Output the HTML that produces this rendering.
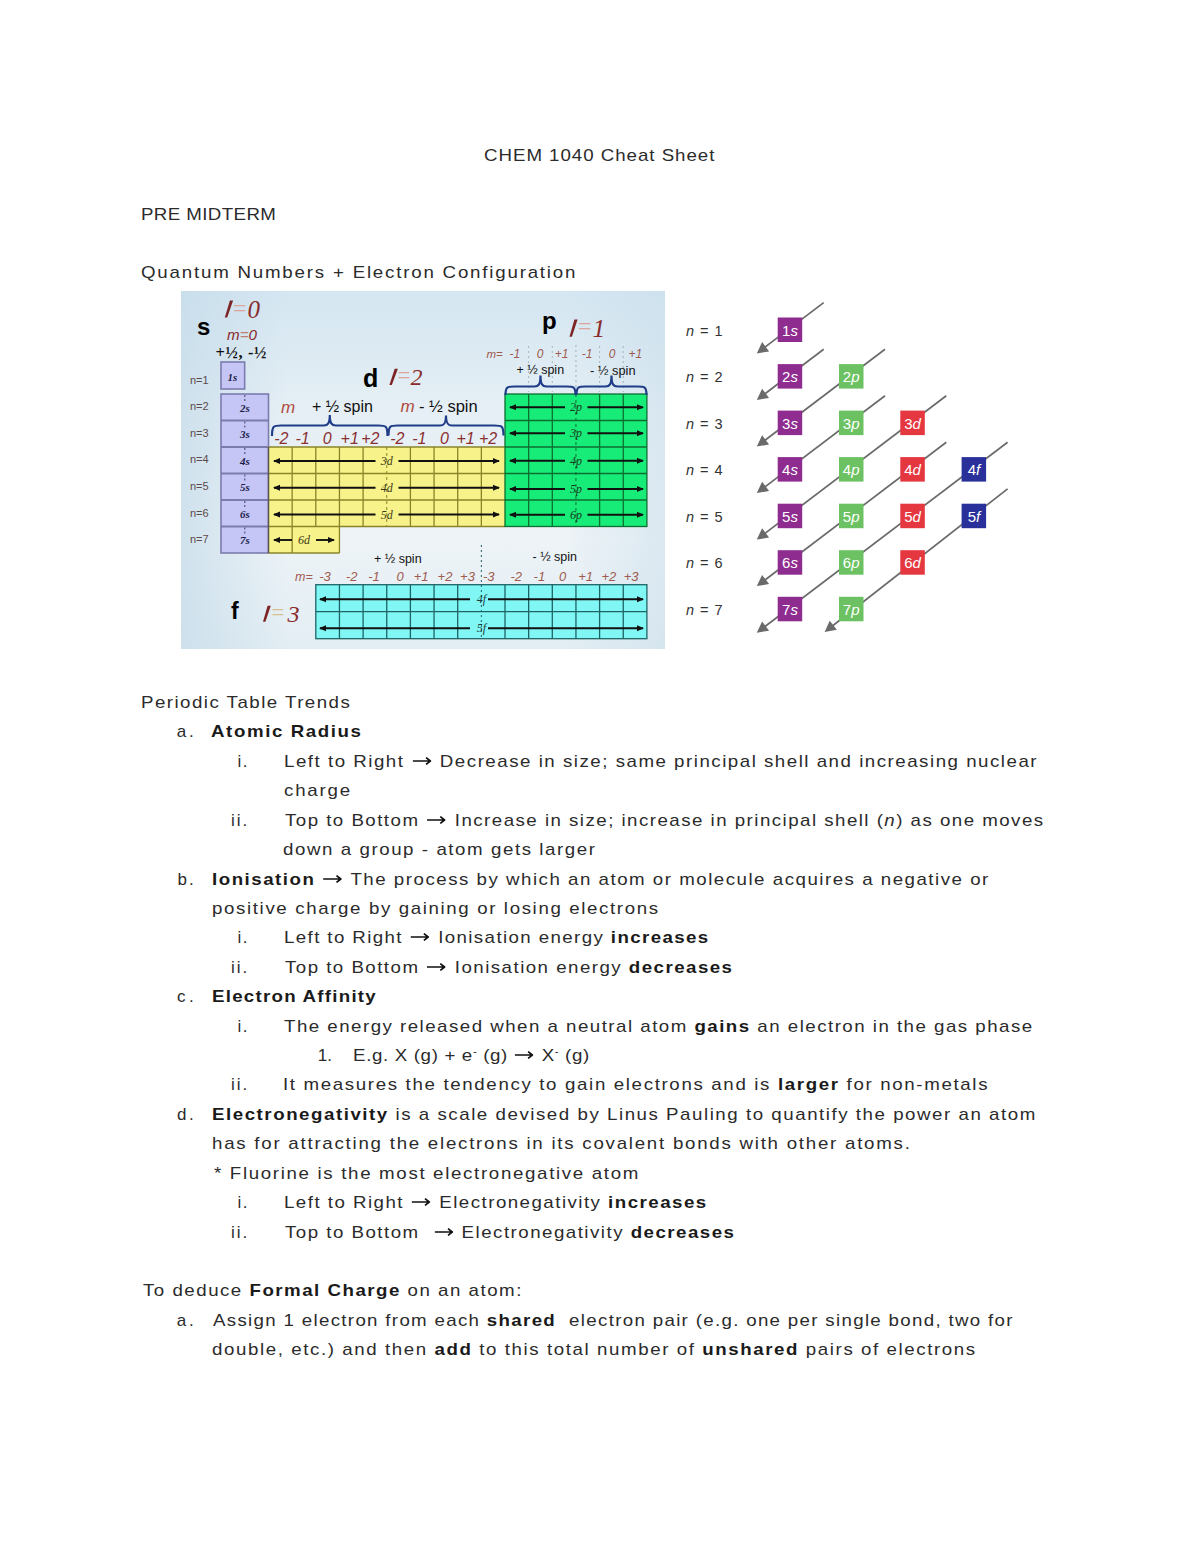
<!DOCTYPE html>
<html><head><meta charset="utf-8"><title>CHEM 1040 Cheat Sheet</title><style>html,body{margin:0;padding:0;background:#fff}
body{width:1200px;height:1553px;position:relative;overflow:hidden}
.l{position:absolute;transform-origin:0 0;white-space:pre;font-family:"Liberation Sans",sans-serif;font-size:17px;line-height:30px;color:#2b2b2b}
.l b{font-weight:bold;color:#1a1a1a}
sup{font-size:60%;vertical-align:0;position:relative;top:-0.55em}
svg.dg{position:absolute;left:0;top:0}
.ar{display:inline-block;vertical-align:2px;margin:0 2px 0 1px}
</style></head><body>
<svg class="dg" width="1200" height="700" viewBox="0 0 1200 700">
<defs>
<linearGradient id="bg" x1="0" y1="0" x2="0" y2="1">
<stop offset="0" stop-color="#d4e6f1"/><stop offset="0.35" stop-color="#e6eff5"/><stop offset="0.7" stop-color="#edf3f7"/><stop offset="1" stop-color="#e2edf3"/></linearGradient>
<linearGradient id="bgh" x1="0" y1="0" x2="1" y2="0">
<stop offset="0" stop-color="#c6dcea" stop-opacity="0.75"/><stop offset="0.22" stop-color="#c6dcea" stop-opacity="0"/><stop offset="0.8" stop-color="#c6dcea" stop-opacity="0"/><stop offset="1" stop-color="#c6dcea" stop-opacity="0.45"/></linearGradient>
<marker id="al" viewBox="0 0 10 10" refX="1" refY="5" markerWidth="5" markerHeight="5" orient="auto-start-reverse"><path d="M10 0L0 5L10 10z" fill="#111"/></marker>
</defs>
<rect x="181" y="291" width="484" height="358" fill="url(#bg)"/>
<rect x="181" y="291" width="484" height="358" fill="url(#bgh)"/>
<rect x="221" y="362" width="23.65" height="27" fill="#c5c6f6" stroke="#7b7cad" stroke-width="1.6"/>
<rect x="221" y="394" width="47.50" height="159" fill="#c5c6f6" stroke="#7b7cad" stroke-width="1.6"/>
<line x1="221" y1="420.5" x2="268.5" y2="420.5" stroke="#7b7cad" stroke-width="1.8"/>
<line x1="221" y1="447.0" x2="268.5" y2="447.0" stroke="#7b7cad" stroke-width="1.8"/>
<line x1="221" y1="473.5" x2="268.5" y2="473.5" stroke="#7b7cad" stroke-width="1.8"/>
<line x1="221" y1="500.0" x2="268.5" y2="500.0" stroke="#7b7cad" stroke-width="1.8"/>
<line x1="221" y1="526.5" x2="268.5" y2="526.5" stroke="#7b7cad" stroke-width="1.8"/>
<line x1="244.8" y1="395.0" x2="244.8" y2="402.0" stroke="#555580" stroke-width="1.2" stroke-dasharray="2 2"/>
<line x1="244.8" y1="421.5" x2="244.8" y2="428.5" stroke="#555580" stroke-width="1.2" stroke-dasharray="2 2"/>
<line x1="244.8" y1="448.0" x2="244.8" y2="455.0" stroke="#555580" stroke-width="1.2" stroke-dasharray="2 2"/>
<line x1="244.8" y1="474.5" x2="244.8" y2="481.5" stroke="#555580" stroke-width="1.2" stroke-dasharray="2 2"/>
<line x1="244.8" y1="501.0" x2="244.8" y2="508.0" stroke="#555580" stroke-width="1.2" stroke-dasharray="2 2"/>
<line x1="244.8" y1="527.5" x2="244.8" y2="534.5" stroke="#555580" stroke-width="1.2" stroke-dasharray="2 2"/>
<text x="232.5" y="381" font-family="Liberation Serif" font-size="11" font-style="italic" font-weight="bold" fill="#1d1d4a" text-anchor="middle">1s</text>
<text x="244.8" y="411.5" font-family="Liberation Serif" font-size="11" font-style="italic" font-weight="bold" fill="#1d1d4a" text-anchor="middle">2s</text>
<text x="244.8" y="438.0" font-family="Liberation Serif" font-size="11" font-style="italic" font-weight="bold" fill="#1d1d4a" text-anchor="middle">3s</text>
<text x="244.8" y="464.5" font-family="Liberation Serif" font-size="11" font-style="italic" font-weight="bold" fill="#1d1d4a" text-anchor="middle">4s</text>
<text x="244.8" y="491.0" font-family="Liberation Serif" font-size="11" font-style="italic" font-weight="bold" fill="#1d1d4a" text-anchor="middle">5s</text>
<text x="244.8" y="517.5" font-family="Liberation Serif" font-size="11" font-style="italic" font-weight="bold" fill="#1d1d4a" text-anchor="middle">6s</text>
<text x="244.8" y="544.0" font-family="Liberation Serif" font-size="11" font-style="italic" font-weight="bold" fill="#1d1d4a" text-anchor="middle">7s</text>
<text x="190" y="384.0" font-family="Liberation Sans" font-size="11" fill="#5b4b4b">n=1</text>
<text x="190" y="410.0" font-family="Liberation Sans" font-size="11" fill="#5b4b4b">n=2</text>
<text x="190" y="436.7" font-family="Liberation Sans" font-size="11" fill="#5b4b4b">n=3</text>
<text x="190" y="463.0" font-family="Liberation Sans" font-size="11" fill="#5b4b4b">n=4</text>
<text x="190" y="490.0" font-family="Liberation Sans" font-size="11" fill="#5b4b4b">n=5</text>
<text x="190" y="516.5" font-family="Liberation Sans" font-size="11" fill="#5b4b4b">n=6</text>
<text x="190" y="543.0" font-family="Liberation Sans" font-size="11" fill="#5b4b4b">n=7</text>
<rect x="268.50" y="447" width="236.50" height="79.5" fill="#f8f28a"/>
<rect x="268.50" y="526.5" width="70.95" height="26.5" fill="#f8f28a"/>
<line x1="268.50" y1="447.0" x2="505.00" y2="447.0" stroke="#8a8428" stroke-width="1.3"/>
<line x1="268.50" y1="473.5" x2="505.00" y2="473.5" stroke="#8a8428" stroke-width="1.3"/>
<line x1="268.50" y1="500.0" x2="505.00" y2="500.0" stroke="#8a8428" stroke-width="1.3"/>
<line x1="268.50" y1="526.5" x2="505.00" y2="526.5" stroke="#8a8428" stroke-width="1.3"/>
<line x1="268.50" y1="553" x2="339.45" y2="553" stroke="#8a8428" stroke-width="1.3"/>
<line x1="292.15" y1="447" x2="292.15" y2="553.0" stroke="#8a8428" stroke-width="1.3"/>
<line x1="315.80" y1="447" x2="315.80" y2="526.5" stroke="#8a8428" stroke-width="1.3"/>
<line x1="339.45" y1="447" x2="339.45" y2="526.5" stroke="#8a8428" stroke-width="1.3"/>
<line x1="363.10" y1="447" x2="363.10" y2="526.5" stroke="#8a8428" stroke-width="1.3"/>
<line x1="386.75" y1="447" x2="386.75" y2="526.5" stroke="#8a8428" stroke-width="1" stroke-dasharray="3 3"/>
<line x1="410.40" y1="447" x2="410.40" y2="526.5" stroke="#8a8428" stroke-width="1.3"/>
<line x1="434.05" y1="447" x2="434.05" y2="526.5" stroke="#8a8428" stroke-width="1.3"/>
<line x1="457.70" y1="447" x2="457.70" y2="526.5" stroke="#8a8428" stroke-width="1.3"/>
<line x1="481.35" y1="447" x2="481.35" y2="526.5" stroke="#8a8428" stroke-width="1.3"/>
<line x1="339.45" y1="526.5" x2="339.45" y2="553" stroke="#8a8428" stroke-width="1.3"/>
<line x1="268.50" y1="447" x2="268.50" y2="553" stroke="#555" stroke-width="1.5"/>
<line x1="274.0" y1="461.0" x2="375.5" y2="461.0" stroke="#111" stroke-width="1.9"/><path d="M273.0 461.0L280.0 458.0L280.0 464.0z" fill="#111"/>
<line x1="398.5" y1="461.0" x2="499.0" y2="461.0" stroke="#111" stroke-width="1.9"/><path d="M500.0 461.0L493.0 458.0L493.0 464.0z" fill="#111"/>
<text x="386.8" y="465.0" font-family="Liberation Serif" font-size="12" font-style="italic" fill="#3d3a18" text-anchor="middle">3d</text>
<line x1="274.0" y1="487.7" x2="375.5" y2="487.7" stroke="#111" stroke-width="1.9"/><path d="M273.0 487.7L280.0 484.7L280.0 490.7z" fill="#111"/>
<line x1="398.5" y1="487.7" x2="499.0" y2="487.7" stroke="#111" stroke-width="1.9"/><path d="M500.0 487.7L493.0 484.7L493.0 490.7z" fill="#111"/>
<text x="386.8" y="491.7" font-family="Liberation Serif" font-size="12" font-style="italic" fill="#3d3a18" text-anchor="middle">4d</text>
<line x1="274.0" y1="514.5" x2="375.5" y2="514.5" stroke="#111" stroke-width="1.9"/><path d="M273.0 514.5L280.0 511.5L280.0 517.5z" fill="#111"/>
<line x1="398.5" y1="514.5" x2="499.0" y2="514.5" stroke="#111" stroke-width="1.9"/><path d="M500.0 514.5L493.0 511.5L493.0 517.5z" fill="#111"/>
<text x="386.8" y="518.5" font-family="Liberation Serif" font-size="12" font-style="italic" fill="#3d3a18" text-anchor="middle">5d</text>
<line x1="274.0" y1="540.0" x2="292.0" y2="540.0" stroke="#111" stroke-width="1.9"/><path d="M273.0 540.0L280.0 537.0L280.0 543.0z" fill="#111"/>
<line x1="316.0" y1="540.0" x2="334.0" y2="540.0" stroke="#111" stroke-width="1.9"/><path d="M335.0 540.0L328.0 537.0L328.0 543.0z" fill="#111"/>
<text x="304" y="544" font-family="Liberation Serif" font-size="12" font-style="italic" fill="#3d3a18" text-anchor="middle">6d</text>
<rect x="505.00" y="394" width="141.90" height="132.5" fill="#18ec78" stroke="#0d6e30" stroke-width="1.3"/>
<line x1="505.00" y1="420.5" x2="646.90" y2="420.5" stroke="#0d6e30" stroke-width="1.3"/>
<line x1="505.00" y1="447.0" x2="646.90" y2="447.0" stroke="#0d6e30" stroke-width="1.3"/>
<line x1="505.00" y1="473.5" x2="646.90" y2="473.5" stroke="#0d6e30" stroke-width="1.3"/>
<line x1="505.00" y1="500.0" x2="646.90" y2="500.0" stroke="#0d6e30" stroke-width="1.3"/>
<line x1="528.65" y1="394" x2="528.65" y2="526.5" stroke="#0d6e30" stroke-width="1.3"/>
<line x1="528.65" y1="346" x2="528.65" y2="392" stroke="#9aa" stroke-width="0.8" stroke-dasharray="2 3"/>
<line x1="552.30" y1="394" x2="552.30" y2="526.5" stroke="#0d6e30" stroke-width="1.3"/>
<line x1="552.30" y1="346" x2="552.30" y2="392" stroke="#9aa" stroke-width="0.8" stroke-dasharray="2 3"/>
<line x1="575.95" y1="345" x2="575.95" y2="392" stroke="#9aa" stroke-width="0.9" stroke-dasharray="2 3"/>
<line x1="575.95" y1="394" x2="575.95" y2="526.5" stroke="#0d6e30" stroke-width="1" stroke-dasharray="3 3"/>
<line x1="599.60" y1="394" x2="599.60" y2="526.5" stroke="#0d6e30" stroke-width="1.3"/>
<line x1="599.60" y1="346" x2="599.60" y2="392" stroke="#9aa" stroke-width="0.8" stroke-dasharray="2 3"/>
<line x1="623.25" y1="394" x2="623.25" y2="526.5" stroke="#0d6e30" stroke-width="1.3"/>
<line x1="623.25" y1="346" x2="623.25" y2="392" stroke="#9aa" stroke-width="0.8" stroke-dasharray="2 3"/>
<line x1="510.0" y1="407.3" x2="565.0" y2="407.3" stroke="#111" stroke-width="1.9"/><path d="M509.0 407.3L516.0 404.3L516.0 410.3z" fill="#111"/>
<line x1="587.5" y1="407.3" x2="643.0" y2="407.3" stroke="#111" stroke-width="1.9"/><path d="M644.0 407.3L637.0 404.3L637.0 410.3z" fill="#111"/>
<text x="576.0" y="411.3" font-family="Liberation Serif" font-size="12" font-style="italic" fill="#1b3d22" text-anchor="middle">2p</text>
<line x1="510.0" y1="433.2" x2="565.0" y2="433.2" stroke="#111" stroke-width="1.9"/><path d="M509.0 433.2L516.0 430.2L516.0 436.2z" fill="#111"/>
<line x1="587.5" y1="433.2" x2="643.0" y2="433.2" stroke="#111" stroke-width="1.9"/><path d="M644.0 433.2L637.0 430.2L637.0 436.2z" fill="#111"/>
<text x="576.0" y="437.2" font-family="Liberation Serif" font-size="12" font-style="italic" fill="#1b3d22" text-anchor="middle">3p</text>
<line x1="510.0" y1="460.7" x2="565.0" y2="460.7" stroke="#111" stroke-width="1.9"/><path d="M509.0 460.7L516.0 457.7L516.0 463.7z" fill="#111"/>
<line x1="587.5" y1="460.7" x2="643.0" y2="460.7" stroke="#111" stroke-width="1.9"/><path d="M644.0 460.7L637.0 457.7L637.0 463.7z" fill="#111"/>
<text x="576.0" y="464.7" font-family="Liberation Serif" font-size="12" font-style="italic" fill="#1b3d22" text-anchor="middle">4p</text>
<line x1="510.0" y1="489.0" x2="565.0" y2="489.0" stroke="#111" stroke-width="1.9"/><path d="M509.0 489.0L516.0 486.0L516.0 492.0z" fill="#111"/>
<line x1="587.5" y1="489.0" x2="643.0" y2="489.0" stroke="#111" stroke-width="1.9"/><path d="M644.0 489.0L637.0 486.0L637.0 492.0z" fill="#111"/>
<text x="576.0" y="493.0" font-family="Liberation Serif" font-size="12" font-style="italic" fill="#1b3d22" text-anchor="middle">5p</text>
<line x1="510.0" y1="514.7" x2="565.0" y2="514.7" stroke="#111" stroke-width="1.9"/><path d="M509.0 514.7L516.0 511.7L516.0 517.7z" fill="#111"/>
<line x1="587.5" y1="514.7" x2="643.0" y2="514.7" stroke="#111" stroke-width="1.9"/><path d="M644.0 514.7L637.0 511.7L637.0 517.7z" fill="#111"/>
<text x="576.0" y="518.7" font-family="Liberation Serif" font-size="12" font-style="italic" fill="#1b3d22" text-anchor="middle">6p</text>
<rect x="315.80" y="584.7" width="331.10" height="54" fill="#80f7f5" stroke="#1d6466" stroke-width="1.3"/>
<line x1="315.80" y1="611.7" x2="646.90" y2="611.7" stroke="#1d6466" stroke-width="1.3"/>
<line x1="339.45" y1="584.7" x2="339.45" y2="638.7" stroke="#1d6466" stroke-width="1.3"/>
<line x1="363.10" y1="584.7" x2="363.10" y2="638.7" stroke="#1d6466" stroke-width="1.3"/>
<line x1="386.75" y1="584.7" x2="386.75" y2="638.7" stroke="#1d6466" stroke-width="1.3"/>
<line x1="410.40" y1="584.7" x2="410.40" y2="638.7" stroke="#1d6466" stroke-width="1.3"/>
<line x1="434.05" y1="584.7" x2="434.05" y2="638.7" stroke="#1d6466" stroke-width="1.3"/>
<line x1="457.70" y1="584.7" x2="457.70" y2="638.7" stroke="#1d6466" stroke-width="1.3"/>
<line x1="481.35" y1="545" x2="481.35" y2="638.7" stroke="#1d6466" stroke-width="1" stroke-dasharray="2 3"/>
<line x1="505.00" y1="584.7" x2="505.00" y2="638.7" stroke="#1d6466" stroke-width="1.3"/>
<line x1="528.65" y1="584.7" x2="528.65" y2="638.7" stroke="#1d6466" stroke-width="1.3"/>
<line x1="552.30" y1="584.7" x2="552.30" y2="638.7" stroke="#1d6466" stroke-width="1.3"/>
<line x1="575.95" y1="584.7" x2="575.95" y2="638.7" stroke="#1d6466" stroke-width="1.3"/>
<line x1="599.60" y1="584.7" x2="599.60" y2="638.7" stroke="#1d6466" stroke-width="1.3"/>
<line x1="623.25" y1="584.7" x2="623.25" y2="638.7" stroke="#1d6466" stroke-width="1.3"/>
<line x1="320.0" y1="599.2" x2="470.0" y2="599.2" stroke="#111" stroke-width="1.9"/><path d="M319.0 599.2L326.0 596.2L326.0 602.2z" fill="#111"/>
<line x1="488.0" y1="599.2" x2="643.0" y2="599.2" stroke="#111" stroke-width="1.9"/><path d="M644.0 599.2L637.0 596.2L637.0 602.2z" fill="#111"/>
<text x="481.4" y="603.2" font-family="Liberation Serif" font-size="12" font-style="italic" fill="#1d3d40" text-anchor="middle">4f</text>
<line x1="320.0" y1="628.2" x2="470.0" y2="628.2" stroke="#111" stroke-width="1.9"/><path d="M319.0 628.2L326.0 625.2L326.0 631.2z" fill="#111"/>
<line x1="488.0" y1="628.2" x2="643.0" y2="628.2" stroke="#111" stroke-width="1.9"/><path d="M644.0 628.2L637.0 625.2L637.0 631.2z" fill="#111"/>
<text x="481.4" y="632.2" font-family="Liberation Serif" font-size="12" font-style="italic" fill="#1d3d40" text-anchor="middle">5f</text>
<path d="M272.0 436.0 C272.0 425.5 274.0 425.5 281.0 425.5 L323.8 425.5 C327.8 425.5 329.8 423.5 329.8 415.0 C329.8 423.5 331.8 425.5 335.8 425.5 L378.5 425.5 C385.5 425.5 387.5 425.5 387.5 436.0" fill="none" stroke="#1f3d88" stroke-width="2.2"/>
<path d="M388.5 435.5 C388.5 425.5 390.5 425.5 397.5 425.5 L440.0 425.5 C444.0 425.5 446.0 423.5 446.0 415.5 C446.0 423.5 448.0 425.5 452.0 425.5 L494.5 425.5 C501.5 425.5 503.5 425.5 503.5 435.5" fill="none" stroke="#1f3d88" stroke-width="2.2"/>
<path d="M505.5 395.0 C505.5 386.5 507.5 386.5 514.5 386.5 L534.5 386.5 C538.5 386.5 540.5 384.5 540.5 375.5 C540.5 384.5 542.5 386.5 546.5 386.5 L566.5 386.5 C573.5 386.5 575.5 386.5 575.5 395.0" fill="none" stroke="#1f3d88" stroke-width="2.2"/>
<path d="M576.5 395.0 C576.5 386.5 578.5 386.5 585.5 386.5 L605.5 386.5 C609.5 386.5 611.5 384.5 611.5 375.5 C611.5 384.5 613.5 386.5 617.5 386.5 L637.5 386.5 C644.5 386.5 646.5 386.5 646.5 395.0" fill="none" stroke="#1f3d88" stroke-width="2.2"/>
<text x="197" y="334.5" font-family="Liberation Sans" font-size="24" font-weight="bold" fill="#000">s</text>
<path d="M229.9 300.5L233.1 300.5L227.2 317.5L224.8 317.5z" fill="#7d2424"/><text x="233.0" y="315.5" font-family="Liberation Serif" font-size="23.8" fill="#dba49c">=</text><text x="247.5" y="317.5" font-family="Liberation Serif" font-size="25.0" font-style="italic" fill="#8a2b2b">0</text>
<text x="227" y="339.5" font-family="Liberation Sans" font-size="15.2" font-style="italic" fill="#8a2b2b">m<tspan fill="#c08070">=</tspan>0</text>
<text x="215.5" y="358" font-family="Liberation Serif" font-size="16.5" font-weight="bold" fill="#111" letter-spacing="0.6">+½, -½</text>
<text x="363" y="386.5" font-family="Liberation Sans" font-size="25" font-weight="bold" fill="#000">d</text>
<path d="M394.7 368.7L397.9 368.7L391.8 385.0L389.4 385.0z" fill="#7d2424"/><text x="397.5" y="383.0" font-family="Liberation Serif" font-size="22.8" fill="#dba49c">=</text><text x="410.5" y="385.0" font-family="Liberation Serif" font-size="24.0" font-style="italic" fill="#8a2b2b">2</text>
<text x="542" y="328.5" font-family="Liberation Sans" font-size="24" font-weight="bold" fill="#000">p</text>
<path d="M574.4 319.5L577.6 319.5L571.9 336.7L569.5 336.7z" fill="#7d2424"/><text x="578.0" y="334.7" font-family="Liberation Serif" font-size="24.2" fill="#dba49c">=</text><text x="592.5" y="336.7" font-family="Liberation Serif" font-size="25.5" font-style="italic" fill="#8a2b2b">1</text>
<path d="M267.6 605.8L270.8 605.8L265.4 621.7L263.0 621.7z" fill="#7d2424"/><text x="271.5" y="619.7" font-family="Liberation Serif" font-size="22.8" fill="#d8c090">=</text><text x="287.5" y="621.7" font-family="Liberation Serif" font-size="24.0" font-style="italic" fill="#8a2b2b">3</text>
<text x="231" y="619.2" font-family="Liberation Sans" font-size="23" font-weight="bold" fill="#000">f</text>
<text x="281" y="412.8" font-family="Liberation Sans" font-size="17" font-style="italic" fill="#b04a40">m</text>
<text x="312" y="411.6" font-family="Liberation Sans" font-size="16" fill="#111">+ ½ spin</text>
<text x="400.5" y="412" font-family="Liberation Sans" font-size="17" font-style="italic" fill="#b04a40">m</text>
<text x="419" y="412" font-family="Liberation Sans" font-size="16.5" fill="#111">- ½ spin</text>
<text x="281.4" y="443.7" font-family="Liberation Sans" font-size="16" font-style="italic" fill="#8a3030" text-anchor="middle">-2</text>
<text x="302.5" y="443.7" font-family="Liberation Sans" font-size="16" font-style="italic" fill="#8a3030" text-anchor="middle">-1</text>
<text x="327.3" y="443.7" font-family="Liberation Sans" font-size="16" font-style="italic" fill="#8a3030" text-anchor="middle">0</text>
<text x="349.7" y="443.7" font-family="Liberation Sans" font-size="16" font-style="italic" fill="#8a3030" text-anchor="middle">+1</text>
<text x="370.3" y="443.7" font-family="Liberation Sans" font-size="16" font-style="italic" fill="#8a3030" text-anchor="middle">+2</text>
<text x="397.4" y="443.7" font-family="Liberation Sans" font-size="16" font-style="italic" fill="#8a3030" text-anchor="middle">-2</text>
<text x="419.4" y="443.7" font-family="Liberation Sans" font-size="16" font-style="italic" fill="#8a3030" text-anchor="middle">-1</text>
<text x="444.4" y="443.7" font-family="Liberation Sans" font-size="16" font-style="italic" fill="#8a3030" text-anchor="middle">0</text>
<text x="465.6" y="443.7" font-family="Liberation Sans" font-size="16" font-style="italic" fill="#8a3030" text-anchor="middle">+1</text>
<text x="488.1" y="443.7" font-family="Liberation Sans" font-size="16" font-style="italic" fill="#8a3030" text-anchor="middle">+2</text>
<text x="486.5" y="357.7" font-family="Liberation Sans" font-size="11.5" font-style="italic" fill="#a05a50">m=</text>
<text x="514.8" y="357.7" font-family="Liberation Sans" font-size="12" font-style="italic" fill="#a05a50" text-anchor="middle">-1</text>
<text x="540.2" y="357.7" font-family="Liberation Sans" font-size="12" font-style="italic" fill="#a05a50" text-anchor="middle">0</text>
<text x="561.6" y="357.7" font-family="Liberation Sans" font-size="12" font-style="italic" fill="#a05a50" text-anchor="middle">+1</text>
<text x="587.0" y="357.7" font-family="Liberation Sans" font-size="12" font-style="italic" fill="#a05a50" text-anchor="middle">-1</text>
<text x="612.2" y="357.7" font-family="Liberation Sans" font-size="12" font-style="italic" fill="#a05a50" text-anchor="middle">0</text>
<text x="635.3" y="357.7" font-family="Liberation Sans" font-size="12" font-style="italic" fill="#a05a50" text-anchor="middle">+1</text>
<text x="516.5" y="373.5" font-family="Liberation Sans" font-size="12.5" fill="#111">+ ½ spin</text>
<text x="590" y="375" font-family="Liberation Sans" font-size="12.8" fill="#111">- ½ spin</text>
<text x="295" y="580.5" font-family="Liberation Sans" font-size="12.5" font-style="italic" fill="#a05a50">m=</text>
<text x="325.0" y="580.5" font-family="Liberation Sans" font-size="13" font-style="italic" fill="#a05a50" text-anchor="middle">-3</text>
<text x="351.7" y="580.5" font-family="Liberation Sans" font-size="13" font-style="italic" fill="#a05a50" text-anchor="middle">-2</text>
<text x="374.0" y="580.5" font-family="Liberation Sans" font-size="13" font-style="italic" fill="#a05a50" text-anchor="middle">-1</text>
<text x="400.0" y="580.5" font-family="Liberation Sans" font-size="13" font-style="italic" fill="#a05a50" text-anchor="middle">0</text>
<text x="421.2" y="580.5" font-family="Liberation Sans" font-size="13" font-style="italic" fill="#a05a50" text-anchor="middle">+1</text>
<text x="445.0" y="580.5" font-family="Liberation Sans" font-size="13" font-style="italic" fill="#a05a50" text-anchor="middle">+2</text>
<text x="467.5" y="580.5" font-family="Liberation Sans" font-size="13" font-style="italic" fill="#a05a50" text-anchor="middle">+3</text>
<text x="488.8" y="580.5" font-family="Liberation Sans" font-size="13" font-style="italic" fill="#a05a50" text-anchor="middle">-3</text>
<text x="516.2" y="580.5" font-family="Liberation Sans" font-size="13" font-style="italic" fill="#a05a50" text-anchor="middle">-2</text>
<text x="539.4" y="580.5" font-family="Liberation Sans" font-size="13" font-style="italic" fill="#a05a50" text-anchor="middle">-1</text>
<text x="562.5" y="580.5" font-family="Liberation Sans" font-size="13" font-style="italic" fill="#a05a50" text-anchor="middle">0</text>
<text x="585.6" y="580.5" font-family="Liberation Sans" font-size="13" font-style="italic" fill="#a05a50" text-anchor="middle">+1</text>
<text x="608.8" y="580.5" font-family="Liberation Sans" font-size="13" font-style="italic" fill="#a05a50" text-anchor="middle">+2</text>
<text x="631.2" y="580.5" font-family="Liberation Sans" font-size="13" font-style="italic" fill="#a05a50" text-anchor="middle">+3</text>
<text x="374" y="562.5" font-family="Liberation Sans" font-size="12.5" fill="#111">+ ½ spin</text>
<text x="532.5" y="560.5" font-family="Liberation Sans" font-size="12.5" fill="#111">- ½ spin</text>
</svg>
<svg class="dg" width="1200" height="700" viewBox="0 0 1200 700">
<line x1="823.7" y1="302.6" x2="764.0" y2="347.9" stroke="#6a6a6a" stroke-width="1.7"/>
<path d="M756.8 353.4L762.1 342.1L769.1 351.4z" fill="#6a6a6a"/>
<line x1="823.7" y1="349.2" x2="764.0" y2="394.5" stroke="#6a6a6a" stroke-width="1.7"/>
<path d="M756.8 399.9L762.1 388.7L769.1 397.9z" fill="#6a6a6a"/>
<line x1="885.0" y1="349.2" x2="764.0" y2="441.0" stroke="#6a6a6a" stroke-width="1.7"/>
<path d="M756.8 446.5L762.1 435.2L769.1 444.5z" fill="#6a6a6a"/>
<line x1="885.0" y1="395.7" x2="764.0" y2="487.6" stroke="#6a6a6a" stroke-width="1.7"/>
<path d="M756.8 493.0L762.1 481.8L769.1 491.0z" fill="#6a6a6a"/>
<line x1="946.3" y1="395.7" x2="764.0" y2="534.1" stroke="#6a6a6a" stroke-width="1.7"/>
<path d="M756.8 539.6L762.1 528.3L769.1 537.6z" fill="#6a6a6a"/>
<line x1="946.3" y1="442.3" x2="764.0" y2="580.7" stroke="#6a6a6a" stroke-width="1.7"/>
<path d="M756.8 586.1L762.1 574.9L769.1 584.1z" fill="#6a6a6a"/>
<line x1="1007.6" y1="442.3" x2="764.0" y2="627.2" stroke="#6a6a6a" stroke-width="1.7"/>
<path d="M756.8 632.7L762.1 621.4L769.1 630.7z" fill="#6a6a6a"/>
<line x1="1007.6" y1="488.8" x2="831.7" y2="626.5" stroke="#6a6a6a" stroke-width="1.7"/>
<path d="M824.6 632.0L829.7 620.7L836.8 629.8z" fill="#6a6a6a"/>
<rect x="777.7" y="317.5" width="24.5" height="24.5" fill="#8e2c90"/>
<text x="790.0" y="335.5" font-family="Liberation Sans" font-size="15" fill="#fff" text-anchor="middle">1<tspan font-style="italic">s</tspan></text>
<rect x="777.7" y="364.1" width="24.5" height="24.5" fill="#8e2c90"/>
<text x="790.0" y="382.1" font-family="Liberation Sans" font-size="15" fill="#fff" text-anchor="middle">2<tspan font-style="italic">s</tspan></text>
<rect x="839.0" y="364.1" width="24.5" height="24.5" fill="#6cc262"/>
<text x="851.2" y="382.1" font-family="Liberation Sans" font-size="15" fill="#fff" text-anchor="middle">2<tspan font-style="italic">p</tspan></text>
<rect x="777.7" y="410.6" width="24.5" height="24.5" fill="#8e2c90"/>
<text x="790.0" y="428.6" font-family="Liberation Sans" font-size="15" fill="#fff" text-anchor="middle">3<tspan font-style="italic">s</tspan></text>
<rect x="839.0" y="410.6" width="24.5" height="24.5" fill="#6cc262"/>
<text x="851.2" y="428.6" font-family="Liberation Sans" font-size="15" fill="#fff" text-anchor="middle">3<tspan font-style="italic">p</tspan></text>
<rect x="900.3" y="410.6" width="24.5" height="24.5" fill="#e5373f"/>
<text x="912.6" y="428.6" font-family="Liberation Sans" font-size="15" fill="#fff" text-anchor="middle">3<tspan font-style="italic">d</tspan></text>
<rect x="777.7" y="457.1" width="24.5" height="24.5" fill="#8e2c90"/>
<text x="790.0" y="475.1" font-family="Liberation Sans" font-size="15" fill="#fff" text-anchor="middle">4<tspan font-style="italic">s</tspan></text>
<rect x="839.0" y="457.1" width="24.5" height="24.5" fill="#6cc262"/>
<text x="851.2" y="475.1" font-family="Liberation Sans" font-size="15" fill="#fff" text-anchor="middle">4<tspan font-style="italic">p</tspan></text>
<rect x="900.3" y="457.1" width="24.5" height="24.5" fill="#e5373f"/>
<text x="912.6" y="475.1" font-family="Liberation Sans" font-size="15" fill="#fff" text-anchor="middle">4<tspan font-style="italic">d</tspan></text>
<rect x="961.6" y="457.1" width="24.5" height="24.5" fill="#29309a"/>
<text x="973.9" y="475.1" font-family="Liberation Sans" font-size="15" fill="#fff" text-anchor="middle">4<tspan font-style="italic">f</tspan></text>
<rect x="777.7" y="503.7" width="24.5" height="24.5" fill="#8e2c90"/>
<text x="790.0" y="521.7" font-family="Liberation Sans" font-size="15" fill="#fff" text-anchor="middle">5<tspan font-style="italic">s</tspan></text>
<rect x="839.0" y="503.7" width="24.5" height="24.5" fill="#6cc262"/>
<text x="851.2" y="521.7" font-family="Liberation Sans" font-size="15" fill="#fff" text-anchor="middle">5<tspan font-style="italic">p</tspan></text>
<rect x="900.3" y="503.7" width="24.5" height="24.5" fill="#e5373f"/>
<text x="912.6" y="521.7" font-family="Liberation Sans" font-size="15" fill="#fff" text-anchor="middle">5<tspan font-style="italic">d</tspan></text>
<rect x="961.6" y="503.7" width="24.5" height="24.5" fill="#29309a"/>
<text x="973.9" y="521.7" font-family="Liberation Sans" font-size="15" fill="#fff" text-anchor="middle">5<tspan font-style="italic">f</tspan></text>
<rect x="777.7" y="550.2" width="24.5" height="24.5" fill="#8e2c90"/>
<text x="790.0" y="568.2" font-family="Liberation Sans" font-size="15" fill="#fff" text-anchor="middle">6<tspan font-style="italic">s</tspan></text>
<rect x="839.0" y="550.2" width="24.5" height="24.5" fill="#6cc262"/>
<text x="851.2" y="568.2" font-family="Liberation Sans" font-size="15" fill="#fff" text-anchor="middle">6<tspan font-style="italic">p</tspan></text>
<rect x="900.3" y="550.2" width="24.5" height="24.5" fill="#e5373f"/>
<text x="912.6" y="568.2" font-family="Liberation Sans" font-size="15" fill="#fff" text-anchor="middle">6<tspan font-style="italic">d</tspan></text>
<rect x="777.7" y="596.8" width="24.5" height="24.5" fill="#8e2c90"/>
<text x="790.0" y="614.8" font-family="Liberation Sans" font-size="15" fill="#fff" text-anchor="middle">7<tspan font-style="italic">s</tspan></text>
<rect x="839.0" y="596.8" width="24.5" height="24.5" fill="#6cc262"/>
<text x="851.2" y="614.8" font-family="Liberation Sans" font-size="15" fill="#fff" text-anchor="middle">7<tspan font-style="italic">p</tspan></text>
<text x="686" y="335.5" font-family="Liberation Sans" font-size="14.5" fill="#333" letter-spacing="1"><tspan font-style="italic">n</tspan> = 1</text>
<text x="686" y="382.1" font-family="Liberation Sans" font-size="14.5" fill="#333" letter-spacing="1"><tspan font-style="italic">n</tspan> = 2</text>
<text x="686" y="428.6" font-family="Liberation Sans" font-size="14.5" fill="#333" letter-spacing="1"><tspan font-style="italic">n</tspan> = 3</text>
<text x="686" y="475.1" font-family="Liberation Sans" font-size="14.5" fill="#333" letter-spacing="1"><tspan font-style="italic">n</tspan> = 4</text>
<text x="686" y="521.7" font-family="Liberation Sans" font-size="14.5" fill="#333" letter-spacing="1"><tspan font-style="italic">n</tspan> = 5</text>
<text x="686" y="568.2" font-family="Liberation Sans" font-size="14.5" fill="#333" letter-spacing="1"><tspan font-style="italic">n</tspan> = 6</text>
<text x="686" y="614.8" font-family="Liberation Sans" font-size="14.5" fill="#333" letter-spacing="1"><tspan font-style="italic">n</tspan> = 7</text>
</svg>
<div class="l" style="left:484.20px;top:141.40px;letter-spacing:0.882px;transform:scaleX(1.100)">CHEM 1040 Cheat Sheet</div>
<div class="l" style="left:140.90px;top:200.00px;letter-spacing:0.364px;transform:scaleX(1.100)">PRE MIDTERM</div>
<div class="l" style="left:140.90px;top:258.00px;letter-spacing:1.634px;transform:scaleX(1.100)">Quantum Numbers + Electron Configuration</div>
<div class="l" style="left:141.40px;top:688.00px;letter-spacing:1.332px;transform:scaleX(1.100)">Periodic Table Trends</div>
<div class="l" style="left:176.80px;top:717.42px;letter-spacing:2.700px">a.</div>
<div class="l" style="left:211.10px;top:717.42px;letter-spacing:1.447px;transform:scaleX(1.100)"><b>Atomic Radius</b></div>
<div class="l" style="left:237.50px;top:746.84px;letter-spacing:1.500px">i.</div>
<div class="l" style="left:283.60px;top:746.84px;letter-spacing:1.371px;transform:scaleX(1.100)">Left to Right <svg class="ar" width="17" height="8" viewBox="0 0 19 8" preserveAspectRatio="none"><path d="M0 4H17.5M13.6 0.6L18 4L13.6 7.4" fill="none" stroke="#111" stroke-width="1.7"/></svg> Decrease in size; same principal shell and increasing nuclear</div>
<div class="l" style="left:283.60px;top:776.26px;letter-spacing:1.645px;transform:scaleX(1.100)">charge</div>
<div class="l" style="left:231.00px;top:805.68px;letter-spacing:2.000px">ii.</div>
<div class="l" style="left:284.80px;top:805.68px;letter-spacing:1.333px;transform:scaleX(1.100)">Top to Bottom <svg class="ar" width="17" height="8" viewBox="0 0 19 8" preserveAspectRatio="none"><path d="M0 4H17.5M13.6 0.6L18 4L13.6 7.4" fill="none" stroke="#111" stroke-width="1.7"/></svg> Increase in size; increase in principal shell (<i>n</i>) as one moves</div>
<div class="l" style="left:283.40px;top:835.10px;letter-spacing:1.421px;transform:scaleX(1.100)">down a group - atom gets larger</div>
<div class="l" style="left:177.50px;top:864.52px;letter-spacing:2.000px">b.</div>
<div class="l" style="left:212.20px;top:864.52px;letter-spacing:1.367px;transform:scaleX(1.100)"><b>Ionisation</b> <svg class="ar" width="17" height="8" viewBox="0 0 19 8" preserveAspectRatio="none"><path d="M0 4H17.5M13.6 0.6L18 4L13.6 7.4" fill="none" stroke="#111" stroke-width="1.7"/></svg> The process by which an atom or molecule acquires a negative or</div>
<div class="l" style="left:212.20px;top:893.94px;letter-spacing:1.473px;transform:scaleX(1.100)">positive charge by gaining or losing electrons</div>
<div class="l" style="left:237.50px;top:923.36px;letter-spacing:1.500px">i.</div>
<div class="l" style="left:283.60px;top:923.36px;letter-spacing:1.266px;transform:scaleX(1.100)">Left to Right <svg class="ar" width="17" height="8" viewBox="0 0 19 8" preserveAspectRatio="none"><path d="M0 4H17.5M13.6 0.6L18 4L13.6 7.4" fill="none" stroke="#111" stroke-width="1.7"/></svg> Ionisation energy <b>increases</b></div>
<div class="l" style="left:231.00px;top:952.78px;letter-spacing:2.000px">ii.</div>
<div class="l" style="left:284.80px;top:952.78px;letter-spacing:1.333px;transform:scaleX(1.100)">Top to Bottom <svg class="ar" width="17" height="8" viewBox="0 0 19 8" preserveAspectRatio="none"><path d="M0 4H17.5M13.6 0.6L18 4L13.6 7.4" fill="none" stroke="#111" stroke-width="1.7"/></svg> Ionisation energy <b>decreases</b></div>
<div class="l" style="left:177.00px;top:982.20px;letter-spacing:3.500px">c.</div>
<div class="l" style="left:211.90px;top:982.20px;letter-spacing:1.136px;transform:scaleX(1.100)"><b>Electron Affinity</b></div>
<div class="l" style="left:237.50px;top:1011.62px;letter-spacing:1.500px">i.</div>
<div class="l" style="left:284.00px;top:1011.62px;letter-spacing:1.342px;transform:scaleX(1.100)">The energy released when a neutral atom <b>gains</b> an electron in the gas phase</div>
<div class="l" style="left:317.75px;top:1041.04px;letter-spacing:0.000px">1.</div>
<div class="l" style="left:352.65px;top:1041.04px;letter-spacing:0.596px;transform:scaleX(1.100)">E.g. X (g) + e<sup>-</sup> (g) <svg class="ar" width="17" height="8" viewBox="0 0 19 8" preserveAspectRatio="none"><path d="M0 4H17.5M13.6 0.6L18 4L13.6 7.4" fill="none" stroke="#111" stroke-width="1.7"/></svg> X<sup>-</sup> (g)</div>
<div class="l" style="left:231.00px;top:1070.46px;letter-spacing:2.000px">ii.</div>
<div class="l" style="left:283.40px;top:1070.46px;letter-spacing:1.495px;transform:scaleX(1.100)">It measures the tendency to gain electrons and is <b>larger</b> for non-metals</div>
<div class="l" style="left:177.00px;top:1099.88px;letter-spacing:2.500px">d.</div>
<div class="l" style="left:211.90px;top:1099.88px;letter-spacing:1.395px;transform:scaleX(1.100)"><b>Electronegativity</b> is a scale devised by Linus Pauling to quantify the power an atom</div>
<div class="l" style="left:211.90px;top:1129.30px;letter-spacing:1.589px;transform:scaleX(1.100)">has for attracting the electrons in its covalent bonds with other atoms.</div>
<div class="l" style="left:214.00px;top:1158.72px;letter-spacing:1.513px;transform:scaleX(1.100)">* Fluorine is the most electronegative atom</div>
<div class="l" style="left:237.50px;top:1188.14px;letter-spacing:1.500px">i.</div>
<div class="l" style="left:283.60px;top:1188.14px;letter-spacing:1.335px;transform:scaleX(1.100)">Left to Right <svg class="ar" width="17" height="8" viewBox="0 0 19 8" preserveAspectRatio="none"><path d="M0 4H17.5M13.6 0.6L18 4L13.6 7.4" fill="none" stroke="#111" stroke-width="1.7"/></svg> Electronegativity <b>increases</b></div>
<div class="l" style="left:231.00px;top:1217.56px;letter-spacing:2.000px">ii.</div>
<div class="l" style="left:284.80px;top:1217.56px;letter-spacing:1.344px;transform:scaleX(1.100)">Top to Bottom  <svg class="ar" width="17" height="8" viewBox="0 0 19 8" preserveAspectRatio="none"><path d="M0 4H17.5M13.6 0.6L18 4L13.6 7.4" fill="none" stroke="#111" stroke-width="1.7"/></svg> Electronegativity <b>decreases</b></div>
<div class="l" style="left:142.50px;top:1276.40px;letter-spacing:1.361px;transform:scaleX(1.100)">To deduce <b>Formal Charge</b> on an atom:</div>
<div class="l" style="left:176.80px;top:1305.82px;letter-spacing:2.700px">a.</div>
<div class="l" style="left:212.50px;top:1305.82px;letter-spacing:1.197px;transform:scaleX(1.100)">Assign 1 electron from each <b>shared</b>  electron pair (e.g. one per single bond, two for</div>
<div class="l" style="left:211.90px;top:1335.24px;letter-spacing:1.438px;transform:scaleX(1.100)">double, etc.) and then <b>add</b> to this total number of <b>unshared</b> pairs of electrons</div>
</body></html>
